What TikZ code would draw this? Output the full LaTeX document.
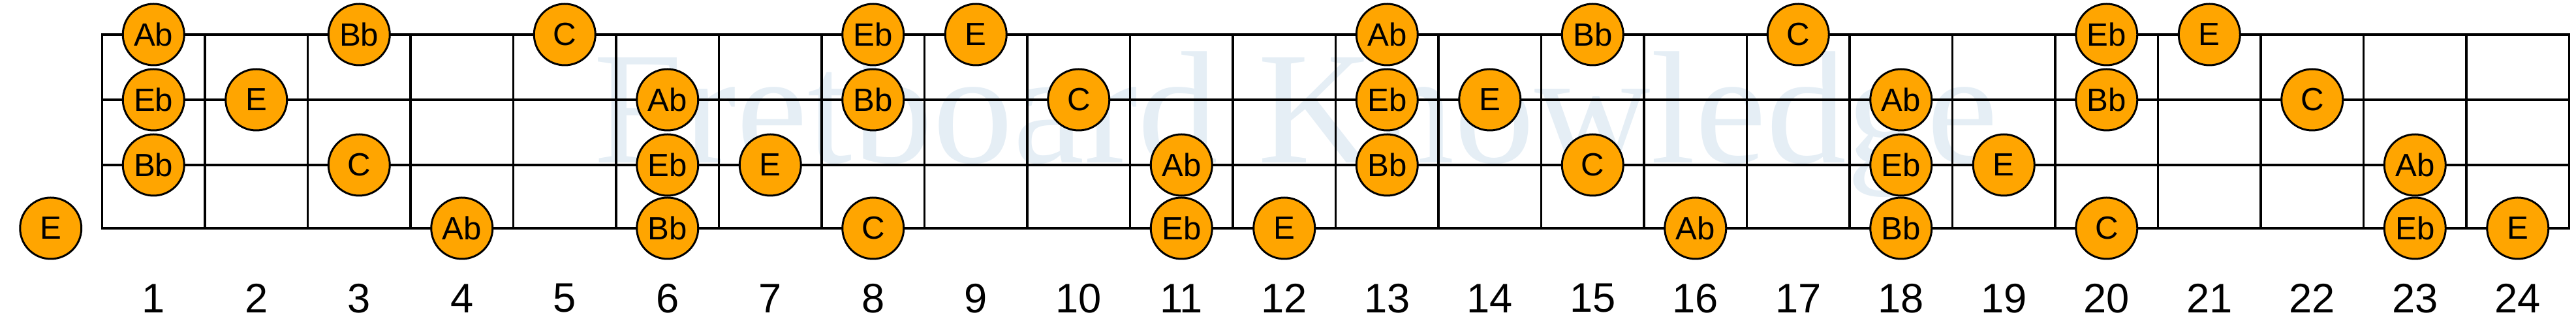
\documentclass[tikz,border=0pt]{standalone}
\usepackage{fontspec}
\setmainfont{Liberation Sans}
\newfontfamily\wmfont{Liberation Serif}
\definecolor{notefill}{HTML}{FFA500}
\definecolor{wmark}{HTML}{E5EEF5}

\tikzset{
	fretline/.style={line width=0.9pt},
	notedot/.style={circle, draw, line width=0.85pt, fill=notefill, minimum size=0.94cm, inner sep=0pt, font=\fontsize{14}{14}\selectfont},
	fretnum/.style={font=\fontsize{18}{18}\selectfont}
}

\begin{document}
\begin{tikzpicture}[x=1cm, y=1cm]
		\useasboundingbox (0,0) rectangle (39.47,5.06);
		\def\nut{1.565}
		\def\fw{1.575}
		
		%watermark
		\node[anchor=base west, inner sep=0pt, text=wmark, font=\wmfont\fontsize{70}{80}\selectfont] (mark) at (9.09, 2.56){Fretboard Knowledge};
		
		%strings and frets
		\draw[fretline] (\nut, 4.53) rectangle ({\nut+24*\fw}, 1.56);
		\foreach \y in {3.53, 2.53}{
			\draw[fretline] (\nut, \y)--({\nut+24*\fw}, \y);
		}
		\foreach \f in {1,...,23}{
			\draw[fretline] ({\nut+\f*\fw}, 4.53)--({\nut+\f*\fw}, 1.56);
		}
		
		%notes
		\foreach \s/\y/\notes in {
			1/4.53/{1/Ab, 3/Bb, 5/C, 8/Eb, 9/E, 13/Ab, 15/Bb, 17/C, 20/Eb, 21/E},
			2/3.53/{1/Eb, 2/E, 6/Ab, 8/Bb, 10/C, 13/Eb, 14/E, 18/Ab, 20/Bb, 22/C},
			3/2.53/{1/Bb, 3/C, 6/Eb, 7/E, 11/Ab, 13/Bb, 15/C, 18/Eb, 19/E, 23/Ab},
			4/1.56/{0/E, 4/Ab, 6/Bb, 8/C, 11/Eb, 12/E, 16/Ab, 18/Bb, 20/C, 23/Eb, 24/E}}{
			\foreach \f/\n in \notes{
				\node[notedot] (n\s-\f) at ({\nut+(\f-0.5)*\fw}, \y){\n};
			}
		}
		
		%fret numbers
		\foreach \f in {1,...,24}{
			\node[fretnum] (fret\f) at ({\nut+(\f-0.5)*\fw}, 0.485){\f};
		}
\end{tikzpicture}
\end{document}
